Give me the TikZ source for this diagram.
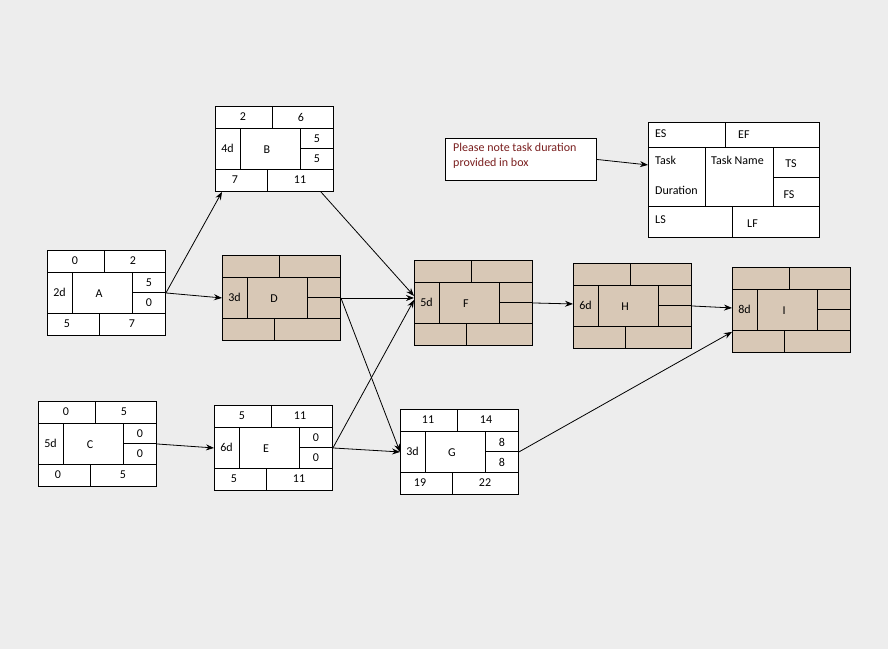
\documentclass[tikz,border=0pt]{standalone}
\usepackage{fontspec}
\setmainfont{Carlito}
\usetikzlibrary{calc,arrows.meta}
\definecolor{paper}{HTML}{EDEDED}
\definecolor{tan}{HTML}{D8C8B6}
\definecolor{notered}{HTML}{7A1F1F}
\tikzset{
  frame/.style={draw,line width=0.9pt,minimum width=118pt,minimum height=85pt,anchor=north west,inner sep=0pt},
  lbl/.style={font=\fontsize{12}{14}\selectfont,inner sep=0pt},
  arr/.style={-{Stealth[length=8pt,width=6pt]},line width=0.8pt}
}
% name, x, y, fill
\newcommand\tbox[4]{%
  \node[frame,fill=#4] (#1) at (#2,#3) {};
  \draw[line width=0.8pt] ($(#1.north west)+(0,22)$) -- ($(#1.north east)+(0,22)$)
    ($(#1.north west)+(0,63)$) -- ($(#1.north east)+(0,63)$)
    ($(#1.north west)+(57,0)$) -- ($(#1.north west)+(57,22)$)
    ($(#1.north west)+(52,63)$) -- ($(#1.north west)+(52,85)$)
    ($(#1.north west)+(25,22)$) -- ($(#1.north west)+(25,63)$)
    ($(#1.north west)+(85,22)$) -- ($(#1.north west)+(85,63)$)
    ($(#1.north west)+(85,42.5)$) -- ($(#1.north east)+(0,42.5)$);
}
% name, dur, lab, ES, EF, TS, FS, LS, LF
\newcommand\tlab[9]{%
  \node[lbl] at ($(#1.north west)+(28,11)$) {#4};
  \node[lbl] at ($(#1.north west)+(86,11)$) {#5};
  \node[lbl] at ($(#1.north west)+(12.5,42.5)$) {#2};
  \node[lbl] at ($(#1.north west)+(52,44)$) {#3};
  \node[lbl] at ($(#1.north west)+(102,33)$) {#6};
  \node[lbl] at ($(#1.north west)+(102,53)$) {#7};
  \node[lbl] at ($(#1.north west)+(20,74)$) {#8};
  \node[lbl] at ($(#1.north west)+(85,74)$) {#9};
}
\begin{document}
\begin{tikzpicture}[x=1pt,y=-1pt]
\fill[paper] (0,0) rectangle (888,649);
\useasboundingbox (0,0) rectangle (888,649);
\tbox{A}{47}{250}{white}\tlab{A}{2d}{A}{0}{2}{5}{0}{5}{7}
\tbox{B}{215}{106}{white}\tlab{B}{4d}{B}{2}{6}{5}{5}{7}{11}
\tbox{C}{38}{401}{white}\tlab{C}{5d}{C}{0}{5}{0}{0}{0}{5}
\tbox{D}{222}{255}{tan}\tlab{D}{3d}{D}{}{}{}{}{}{}
\tbox{E}{214}{405}{white}\tlab{E}{6d}{E}{5}{11}{0}{0}{5}{11}
\tbox{F}{414}{260}{tan}\tlab{F}{5d}{F}{}{}{}{}{}{}
\tbox{G}{400}{409}{white}\tlab{G}{3d}{G}{11}{14}{8}{8}{19}{22}
\tbox{H}{573}{263}{tan}\tlab{H}{6d}{H}{}{}{}{}{}{}
\tbox{I}{732}{267}{tan}\tlab{I}{8d}{I}{}{}{}{}{}{}
% legend
\node[draw,line width=0.9pt,fill=white,minimum width=171pt,minimum height=115pt,anchor=north west,inner sep=0pt] (L) at (648,122) {};
\draw[line width=0.8pt] ($(L.north west)+(0,25)$) -- ($(L.north east)+(0,25)$)
  ($(L.north west)+(0,84)$) -- ($(L.north east)+(0,84)$)
  ($(L.north west)+(77,0)$) -- ($(L.north west)+(77,25)$)
  ($(L.north west)+(84,84)$) -- ($(L.north west)+(84,115)$)
  ($(L.north west)+(57,25)$) -- ($(L.north west)+(57,84)$)
  ($(L.north west)+(125,25)$) -- ($(L.north west)+(125,84)$)
  ($(L.north west)+(125,55)$) -- ($(L.north east)+(0,55)$);
\node[lbl,anchor=west] at ($(L.north west)+(7,12)$) {ES};
\node[lbl,anchor=west] at ($(L.north west)+(90,13)$) {EF};
\node[lbl,anchor=west] at ($(L.north west)+(7,38)$) {Task};
\node[lbl,anchor=west] at ($(L.north west)+(7,68)$) {Duration};
\node[lbl,anchor=west] at ($(L.north west)+(63,38)$) {Task Name};
\node[lbl] at ($(L.north west)+(143,42)$) {TS};
\node[lbl] at ($(L.north west)+(141,73)$) {FS};
\node[lbl,anchor=west] at ($(L.north west)+(7,98)$) {LS};
\node[lbl,anchor=west] at ($(L.north west)+(99,102)$) {LF};
\node[draw,line width=0.9pt,fill=white,minimum width=151pt,minimum height=42pt,anchor=north west,inner sep=0pt] (N) at (445,138) {};
\node[lbl,anchor=north west,text=notered,align=left] at ($(N.north west)+(8,5)$) {Please note task duration\\[1pt]provided in box};
% arrows
\draw[arr] (A.east) -- ($(B.south west)+(7,0)$);
\draw[arr] (A.east) -- (D.west);
\draw[arr] ($(B.south east)+(-13,0)$) -- ($(F.west)+(0,-7)$);
\draw[arr] (D.east) -- ($(F.west)+(0,-5)$);
\draw[arr] (D.east) -- (G.west);
\draw[arr] (E.east) -- ($(F.west)+(0,-3)$);
\draw[arr] (E.east) -- (G.west);
\draw[arr] (C.east) -- (E.west);
\draw[arr] (F.east) -- ($(H.west)+(0,-2)$);
\draw[arr] (G.east) -- ($(I.south west)+(0,-21)$);
\draw[arr] (H.east) -- ($(I.west)+(0,-2)$);
\draw[arr] (N.east) -- ($(L.west)+(0,-15)$);
\end{tikzpicture}
\end{document}
